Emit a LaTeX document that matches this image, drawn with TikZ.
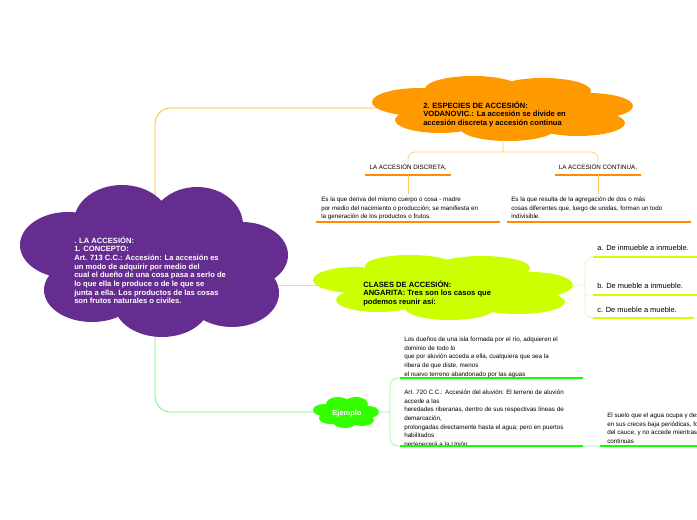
\documentclass[tikz,border=0pt]{standalone}
\usepackage{fontspec}
\setmainfont{Liberation Sans}
\begin{document}
\begin{tikzpicture}[x=0.75pt,y=-0.75pt,
  sm/.style={font=\fontsize{4.7}{6.4}\selectfont,align=left,anchor=north west,inner sep=0},
  bd/.style={font=\bfseries\fontsize{5.7}{6.5}\selectfont,align=left,anchor=north west,inner sep=0},
  oline/.style={draw=orange!70!yellow!60,line width=0.5pt,rounded corners=12},
  gline/.style={draw=green!90!black!60,line width=0.5pt,rounded corners=12},
  yline/.style={draw=yellow!60!green!30,line width=0.5pt,rounded corners=6},
  oul/.style={draw=orange!90!yellow,line width=1.6pt},
  gul/.style={draw=green!90!lime,line width=1.6pt},
  yul/.style={draw=lime!70!yellow,line width=1.6pt}]
\definecolor{purp}{HTML}{662D91}
\definecolor{oran}{HTML}{FF9900}
\definecolor{lime2}{HTML}{CCFF00}
\definecolor{grn}{HTML}{33FF00}
\useasboundingbox (0,0) rectangle (697,520);
\clip (0,0) rectangle (697,520);
% connectors
\draw[oline,draw=orange!60!yellow] (155,220) -- (155,108) -- (400,108);
\draw[gline] (155,300) -- (155,412) -- (320,412);
\draw[yline,draw=yellow!50!green!40] (270,285) -- (320,285);
% purple cloud
\fill[purp] (68,245) ellipse (48 and 33) (122,222) ellipse (48 and 37) (197,225) ellipse (46 and 38) (242,255) ellipse (46 and 33)
 (232,293) ellipse (47 and 34) (162,303) ellipse (48 and 34) (92,290) ellipse (48 and 32) (155,262) ellipse (95 and 50);
\node[bd,text=white] (main) at (74,236) {. LA ACCESIÓN:\\1. CONCEPTO:\\Art. 713 C.C.: Accesión: La accesión es\\un modo de adquirir por medio del\\cual el dueño de una cosa pasa a serlo de\\lo que ella le produce o de le que se\\junta a ella. Los productos de las cosas\\son frutos naturales o civiles.};
% orange cloud
\fill[oran] (420,102) ellipse (48 and 14) (473,89) ellipse (48 and 13) (543,91) ellipse (48 and 13)
 (588,106) ellipse (45 and 13) (578,123) ellipse (47 and 13) (508,128) ellipse (48 and 13)
 (440,120) ellipse (45 and 13) (503,110) ellipse (100 and 18);
\node[bd] (esp) at (423,101) {2. ESPECIES DE ACCESIÓN:\\VODANOVIC.: La accesión se divide en\\accesión discreta y accesión continua};
\coordinate (ob) at (503,140);
\draw[oline,rounded corners=5] (ob) -- (503,152) (408,166) -- (408,152) -- (598,152) -- (598,166);
\node[sm,anchor=north] (d) at (408,164) {LA ACCESIÓN DISCRETA,};
\draw[oul] (365,175) -- (451,175);
\node[sm,anchor=north] (c) at (598,164) {LA ACCESIÓN CONTINUA,};
\draw[oul] (555,175) -- (641,175);
\draw[oline] (408,175) -- (408,194) (598,175) -- (598,194);
\node[sm] (dt) at (321,197) {Es la que deriva del mismo cuerpo o cosa - madre\\por medio del nacimiento o producción; se manifiesta en\\la generación de los productos o frutos.};
\draw[oul] (316,222) -- (500,222);
\node[sm] (ct) at (511,197) {Es la que resulta de la agregación de dos o más\\cosas diferentes que, luego de unidas, forman un todo\\indivisible.};
\draw[oul] (507,222) -- (691,222);
% lime cloud
\fill[lime2] (355,280) ellipse (42 and 13) (410,266) ellipse (45 and 11) (482,268) ellipse (48 and 12)
 (530,285) ellipse (43 and 13) (518,302) ellipse (47 and 12) (450,308) ellipse (45 and 12)
 (378,300) ellipse (42 and 12) (443,287) ellipse (100 and 18);
\node[bd] (cl) at (363,280) {CLASES DE ACCESIÓN:\\ANGARITA: Tres son los casos que\\podemos reunir así:};
\draw[yline] (572,285) -- (585,285) (697,257) -- (585,257) -- (585,318) -- (697,318) (585,295) -- (697,295);
\node[sm,font=\fontsize{5.6}{6.4}\selectfont] (a) at (597,245) {a. De inmueble a inmueble.};
\draw[yul] (593,257) -- (697,257);
\node[sm,font=\fontsize{5.6}{6.4}\selectfont] (b) at (597,283) {b. De mueble a inmueble.};
\draw[yul] (593,295) -- (697,295);
\node[sm,font=\fontsize{5.6}{6.4}\selectfont] (cc) at (597,307) {c. De mueble a mueble.};
\draw[yul] (593,318) -- (694,318);
% ejemplo
\fill[grn] (338,404) ellipse (12 and 7) (356,404) ellipse (12 and 7) (368,412) ellipse (11 and 6)
 (362,420) ellipse (12 and 6) (345,422) ellipse (12 and 6) (330,418) ellipse (11 and 6)
 (324,410) ellipse (11 and 6) (347,413) ellipse (25 and 9);
\node[font=\bfseries\fontsize{5.6}{6.4}\selectfont,text=white] (ej) at (347,414) {Ejemplo};
\draw[gline,draw=green!90!black!40,rounded corners=6] (378,412) -- (390,412) (400,378) -- (390,378) -- (390,446) -- (400,446) (583,446) -- (600,446);
\node[sm] (e1) at (404,337) {Los dueños de una isla formada por el río, adquieren el\\dominio de todo lo\\que por aluvión acceda a ella, cualquiera que sea la\\ribera de que diste, menos\\el nuevo terreno abandonado por las aguas};
\draw[gul] (400,378) -- (583,378);
\node[sm] (e2) at (404,390) {Art. 720 C.C.: Accesión del aluvión: El terreno de aluvión\\accede a las\\heredades riberanas, dentro de sus respectivas líneas de\\demarcación,\\prolongadas directamente hasta el agua; pero en puertos\\habilitados\\pertenecerá a la Unión.};
\draw[gul] (400,446) -- (583,446);
\node[sm] (e3) at (607,413) {El suelo que el agua ocupa y desocupa alternativamente\\en sus creces baja periódicas, forma parte\\del cauce, y no accede mientras las aguas son\\continuas};
\draw[gul] (600,446) -- (697,446);
\end{tikzpicture}
\end{document}
